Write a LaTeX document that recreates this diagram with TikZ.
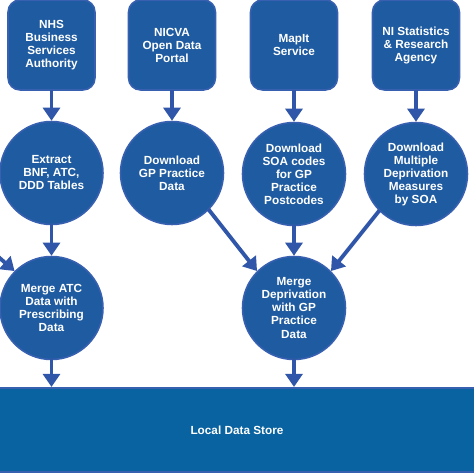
\documentclass[tikz,border=0pt]{standalone}
\usepackage{fontspec}
\newfontfamily\flowfont{Liberation Sans}
\usetikzlibrary{arrows.meta,positioning}
\definecolor{srcblue}{RGB}{31,91,160}
\definecolor{rimblue}{RGB}{55,96,176}
\definecolor{storeblue}{RGB}{8,99,160}
\definecolor{arrblue}{RGB}{47,86,168}

\begin{document}
\begin{tikzpicture}[
    x=0.02cm, y=-0.02cm,
    source/.style={draw=rimblue, line width=0.9pt, fill=srcblue, rounded corners=0.24cm,
        minimum width=1.74cm, minimum height=1.8cm, align=center, text=white,
        font=\flowfont\bfseries\fontsize{6.7}{7.4}\selectfont},
    task/.style={circle, draw=rimblue, line width=0.9pt, fill=srcblue, minimum size=2.06cm,
        inner sep=0pt, align=center, text=white,
        font=\flowfont\bfseries\fontsize{6.7}{7.4}\selectfont},
    store/.style={draw=rimblue, line width=1.2pt, fill=storeblue, minimum width=9.8cm,
        minimum height=1.68cm, text=white, font=\flowfont\bfseries\fontsize{6.7}{7.4}\selectfont},
    arr/.style={-{Triangle[length=7.4pt,width=9.6pt]}, line width=2.2pt, arrblue, shorten <=-0.5pt}
]
\path[use as bounding box, clip] (0,0) rectangle (474,474);

% data sources
\node[source] (nhs) at (51.5,45) {NHS\\Business\\Services\\Authority};
\node[source] (nicva) at (172,45) {NICVA\\Open Data\\Portal};
\node[source] (mapit) at (294,45) {MapIt\\Service};
\node[source] (nisra) at (416,45) {NI Statistics\\\& Research\\Agency};

% download / extract steps
\node[task] (extract) at (51.5,173) {Extract\\BNF, ATC,\\DDD Tables};
\node[task] (gpdata) at (172,173) {Download\\GP Practice\\Data};
\node[task] (soa) at (294,174) {Download\\SOA codes\\for GP\\Practice\\Postcodes};
\node[task] (depriv) at (416,174) {Download\\Multiple\\Deprivation\\Measures\\by SOA};

% merge steps
\node[task] (mergeatc) at (51.5,308) {Merge ATC\\Data with\\Prescribing\\Data};
\node[task] (mergedep) at (294,308) {Merge\\Deprivation\\with GP\\Practice\\Data};

\node[store] (local) at (237,430) {Local Data Store};
\coordinate (offleft) at (-30,232);

\draw[arr] (nhs) -- (extract);
\draw[arr] (nicva) -- (gpdata);
\draw[arr] (mapit) -- (soa);
\draw[arr] (nisra) -- (depriv);
\draw[arr] (extract) -- (mergeatc);
\draw[arr] (offleft) -- (mergeatc.north west);
\draw[arr] (gpdata.south east) -- (mergedep.north west);
\draw[arr] (soa) -- (mergedep);
\draw[arr] (depriv.south west) -- (mergedep.north east);
\draw[arr] (mergeatc.south) -- (mergeatc.south |- local.north);
\draw[arr] (mergedep.south) -- (mergedep.south |- local.north);
\end{tikzpicture}
\end{document}
